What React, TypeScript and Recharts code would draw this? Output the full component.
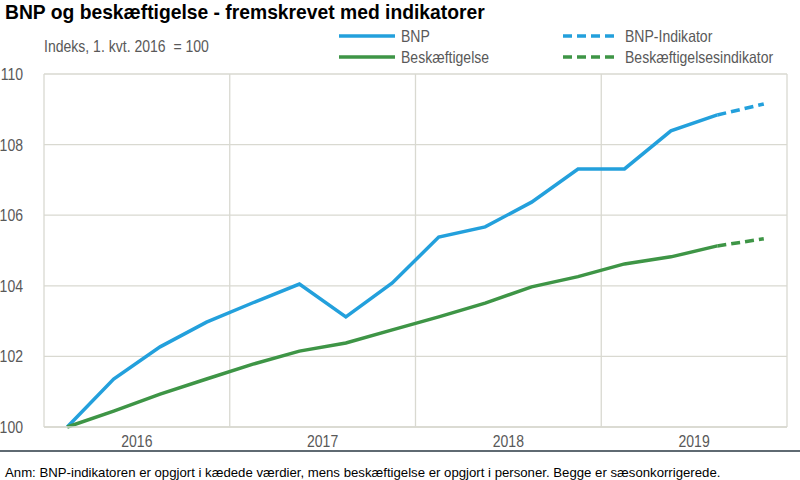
import { LineChart, Line, XAxis, YAxis, CartesianGrid, ReferenceLine } from 'recharts'

const quarters = [
  '2016K1', '2016K2', '2016K3', '2016K4',
  '2017K1', '2017K2', '2017K3', '2017K4',
  '2018K1', '2018K2', '2018K3', '2018K4',
  '2019K1', '2019K2', '2019K3', '2019K4',
]
const bnp = [100, 101.36, 102.27, 102.97, 103.52, 104.05, 103.12, 104.08, 105.38, 105.67, 106.37, 107.31, 107.31, 108.39, 108.84, null]
const bnpIndikator = [null, null, null, null, null, null, null, null, null, null, null, null, null, null, 108.84, 109.15]
const beskaeftigelse = [100, 100.45, 100.93, 101.36, 101.78, 102.15, 102.38, 102.75, 103.12, 103.51, 103.97, 104.26, 104.62, 104.82, 105.13, null]
const beskIndikator = [null, null, null, null, null, null, null, null, null, null, null, null, null, null, 105.13, 105.33]
const yearTicks = [1.5, 5.5, 9.5, 13.5]
const yearLabels = ['2016', '2017', '2018', '2019']
const yTicks = [100, 102, 104, 106, 108, 110]
const yearBounds = [-0.5, 3.5, 7.5, 11.5, 15.5]

const BLUE = '#23a0dc'
const GREEN = '#3e9546'
const GRID = '#d9d9d1'
const TEXT = '#595959'
const FONT = 'Arial, "Liberation Sans", sans-serif'
const SQUEEZE = 0.85

const data = quarters.map((q, i) => ({
  x: i,
  q,
  bnp: bnp[i],
  bnpInd: bnpIndikator[i],
  besk: beskaeftigelse[i],
  beskInd: beskIndikator[i],
}))

const legendItems = [
  { label: 'BNP', color: BLUE, dashed: false, left: 338, top: 36 },
  { label: 'Beskæftigelse', color: GREEN, dashed: false, left: 338, top: 57 },
  { label: 'BNP-Indikator', color: BLUE, dashed: true, left: 562, top: 36 },
  { label: 'Beskæftigelsesindikator', color: GREEN, dashed: true, left: 562, top: 57 },
]

// no narrow font installed, so squeeze Arial horizontally
const narrowText = {
  fontSize: 16.5,
  color: TEXT,
  fontFamily: FONT,
  display: 'inline-block',
  transform: `scaleX(${SQUEEZE})`,
  transformOrigin: 'left center',
} as const

function NarrowTick(props: any) {
  const { x, y, payload, textAnchor, anchor, fmt } = props
  const label = fmt ? fmt(payload.value) : payload.value
  return (
    <g transform={`translate(${x},${y})`}>
      <text
        transform={`scale(${SQUEEZE},1)`}
        textAnchor={anchor || textAnchor}
        dominantBaseline="central"
        fill={TEXT}
        fontSize={16.5}
        fontFamily={FONT}
      >
        {label}
      </text>
    </g>
  )
}

export default function App() {
  return (
    <div style={{ position: 'relative', width: 800, height: 480, background: '#fff', fontFamily: FONT }}>
      <style>{'body { margin: 0; }'}</style>
      <div style={{ position: 'absolute', left: 5, top: 2, fontSize: 19.3, fontWeight: 'bold', color: '#000', whiteSpace: 'nowrap' }}>
        BNP og beskæftigelse - fremskrevet med indikatorer
      </div>
      <div style={{ position: 'absolute', left: 44, top: 37, whiteSpace: 'nowrap' }}>
        <span style={narrowText}>Indeks, 1. kvt. 2016&nbsp; = 100</span>
      </div>
      {legendItems.map((it) => (
        <div key={it.label} style={{ position: 'absolute', left: it.left, top: it.top - 10, height: 20, display: 'flex', alignItems: 'center', whiteSpace: 'nowrap' }}>
          <svg width={58} height={6} style={{ marginRight: 5 }}>
            <line x1={1} y1={3} x2={57} y2={3} stroke={it.color} strokeWidth={3.3} strokeDasharray={it.dashed ? '9 5' : undefined} />
          </svg>
          <span style={narrowText}>{it.label}</span>
        </div>
      ))}
      <div style={{ position: 'absolute', left: 0, top: 0 }}>
        <LineChart width={800} height={480} data={data} margin={{ top: 74, right: 13, bottom: 0, left: 0 }}>
          <CartesianGrid vertical={false} stroke={GRID} strokeWidth={1.3} />
          {yearBounds.map((b) => (
            <ReferenceLine key={b} x={b} stroke={GRID} strokeWidth={1.3} />
          ))}
          <XAxis
            dataKey="x"
            type="number"
            domain={[-0.5, 15.5]}
            ticks={yearTicks}
            tickLine={false}
            axisLine={{ stroke: GRID, strokeWidth: 1.3 }}
            tick={<NarrowTick anchor="middle" fmt={(v: number) => yearLabels[yearTicks.indexOf(v)]} />}
            tickMargin={8}
            height={53}
            interval={0}
          />
          <YAxis
            type="number"
            domain={[100, 110]}
            ticks={yTicks}
            tickLine={false}
            axisLine={false}
            width={44}
            tick={<NarrowTick anchor="end" />}
            tickMargin={15}
            interval={0}
          />
          <Line dataKey="bnp" stroke={BLUE} strokeWidth={3.5} dot={false} isAnimationActive={false} connectNulls={false} />
          <Line dataKey="bnpInd" stroke={BLUE} strokeWidth={3.5} strokeDasharray="9 5" dot={false} isAnimationActive={false} />
          <Line dataKey="besk" stroke={GREEN} strokeWidth={3.5} dot={false} isAnimationActive={false} connectNulls={false} />
          <Line dataKey="beskInd" stroke={GREEN} strokeWidth={3.5} strokeDasharray="9 5" dot={false} isAnimationActive={false} />
        </LineChart>
      </div>
      <div style={{ position: 'absolute', left: 0, top: 450, width: 800, height: 2, background: '#5f6a72' }} />
      <div style={{ position: 'absolute', left: 5, top: 465, fontSize: 13.2, color: '#000', whiteSpace: 'nowrap' }}>
        Anm: BNP-indikatoren er opgjort i kædede værdier, mens beskæftigelse er opgjort i personer. Begge er sæsonkorrigerede.
      </div>
    </div>
  )
}
